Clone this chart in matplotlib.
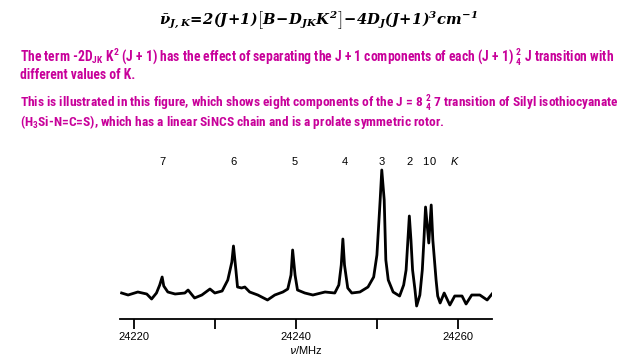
import matplotlib
matplotlib.use("Agg")
import matplotlib.pyplot as plt
from matplotlib import font_manager
from matplotlib.transforms import blended_transform_factory

# ---- data ----
freq_mhz = [24218.5, 24219.3, 24220.5, 24221.6, 24222.2, 24222.8, 24223.2, 24223.5, 24223.7,
            24224.2, 24225.1, 24226.3, 24226.7, 24227.5, 24228.4, 24229.4, 24230.0, 24230.9,
            24231.6, 24232.1, 24232.3, 24232.6, 24232.8, 24233.3, 24233.7, 24234.3, 24235.3,
            24236.5, 24237.4, 24238.4, 24239.0, 24239.4, 24239.6, 24239.9, 24240.2, 24241.1,
            24242.1, 24243.6, 24244.8, 24245.3, 24245.6, 24245.8, 24246.0, 24246.4, 24246.9,
            24247.9, 24248.9, 24249.6, 24250.0, 24250.4, 24250.6, 24250.9, 24251.1, 24251.4,
            24252.0, 24252.8, 24253.3, 24253.6, 24254.0, 24254.2, 24254.4, 24254.7, 24254.9,
            24255.3, 24255.6, 24255.8, 24256.0, 24256.4, 24256.7, 24256.9, 24257.3, 24257.5,
            24257.8, 24258.3, 24259.0, 24259.6, 24260.5, 24261.0, 24261.7, 24262.7, 24263.6,
            24264.2]
intensity = [0, -2, 1, -1, -6, 0, 8, 16, 7,
             1, -1, 0, 3, -5, -2, 4, 0, 2,
             13, 31, 47, 23, 6, 5, 6, 1, -2,
             -7, -2, 1, 4, 18, 43, 18, 3, 0,
             -2, 1, 0, 8, 28, 54, 28, 5, 0,
             1, 6, 16, 38, 93, 123, 93, 33, 13,
             1, -3, 8, 23, 77, 53, 23, 3, -13,
             -2, 23, 53, 86, 50, 88, 53, 13, -3,
             -10, 0, -12, -3, -3, -11, -2, -2, -7,
             -1]

k_labels = ["7", "6", "5", "4", "3", "2", "1", "0"]
k_label_freq = [24223.5, 24232.3, 24239.8, 24246.0, 24250.6, 24254.0, 24255.9, 24256.9]

tick_major = [24220, 24240, 24260]
tick_minor = [24230, 24250]
x_label = r"$\nu$/MHz"

title_eq = (r"$\bar{\nu}_{J,K}\!=\!2\left(J\!+\!1\right)\left[B\!-\!D_{JK}K^{2}\right]"
            r"\!-\!4D_{J}\left(J\!+\!1\right)^{3}cm^{-1}$")
para_lines = [
    r"The term -2D$_{\mathsf{JK}}$ K$^{\mathsf{2}}$ (J + 1) has the effect of separating the J + 1 components of each (J + 1) $^{\mathsf{2}}_{\mathsf{4}}$ J transition with",
    r"different values of K.",
    r"This is illustrated in this figure, which shows eight components of the J = 8 $^{\mathsf{2}}_{\mathsf{4}}$ 7 transition of Silyl isothiocyanate",
    r"(H$_{\mathsf{3}}$Si-N=C=S), which has a linear SiNCS chain and is a prolate symmetric rotor.",
]

# ---- fonts ----
names = {f.name for f in font_manager.fontManager.ttflist}
narrow = "Liberation Sans Narrow" if "Liberation Sans Narrow" in names else (
    "Roboto Condensed" if "Roboto Condensed" in names else "Liberation Sans")
plt.rcParams["mathtext.fontset"] = "custom"
plt.rcParams["mathtext.rm"] = "DejaVu Serif:bold:italic"
plt.rcParams["mathtext.it"] = "DejaVu Serif:bold:italic"
plt.rcParams["mathtext.bf"] = "DejaVu Serif:bold:italic"
plt.rcParams["mathtext.sf"] = narrow + ":bold"

W, H = 638, 359
fig = plt.figure(figsize=(W / 100, H / 100), dpi=100)
fig.patch.set_facecolor("white")

def fx(px):
    return px / W

def fy(py):
    return 1 - py / H

# axes: spine spans x=120..492 px, bottom at y=319 px, top at y=160 px
ax = fig.add_axes([fx(120), fy(319), (492 - 120) / W, (319 - 160) / H])
ax.plot(freq_mhz, intensity, color="black", lw=2.0, solid_joinstyle="round")
ax.set_xlim(24218.3, 24264.2)
ax.set_ylim(-26, 133)
for s in ["top", "right", "left"]:
    ax.spines[s].set_visible(False)
ax.spines["bottom"].set_linewidth(1.3)
ax.set_yticks([])
ax.set_xticks(tick_major)
ax.set_xticklabels([str(t) for t in tick_major], fontsize=8, family="Liberation Sans")
ax.set_xticks(tick_minor, minor=True)
ax.tick_params(axis="x", which="both", direction="out", length=7, width=1.3, pad=2)
ax.set_xlabel(x_label, fontsize=8, family="Liberation Sans", labelpad=2)
ax.xaxis.label.set_math_fontfamily("dejavusans")

trans = blended_transform_factory(ax.transData, fig.transFigure)
for lab, f in zip(k_labels, k_label_freq):
    ax.text(f, fy(162), lab, transform=trans, ha="center", va="center",
            fontsize=8, family="Liberation Sans")
ax.text(24259.6, fy(162), "K", transform=trans, ha="center", va="center",
        fontsize=8, family="Liberation Sans", style="italic")

# title equation
t = fig.text(fx(318), fy(20), title_eq, ha="center", va="center", fontsize=13)

# paragraph lines, fitted to their widths in the reference
magenta = "#C8009A"
line_y = [57, 75, 104, 122]
target_w = [594, None, 600, None]
texts = []
for s, y in zip(para_lines, line_y):
    texts.append(fig.text(fx(20), fy(y), s, ha="left", va="center", fontsize=9.5,
                          family=narrow, weight="bold", color=magenta))
fig.canvas.draw()
r = fig.canvas.get_renderer()
sc = 1.0
for tx, tw in zip(texts, target_w):
    if tw:
        sc = tw / tx.get_window_extent(r).width
    tx.set_fontsize(9.5 * sc)
tw = t.get_window_extent(r).width
t.set_fontsize(13 * 320 / tw)

fig.savefig("out.png", dpi=100, facecolor="white")
